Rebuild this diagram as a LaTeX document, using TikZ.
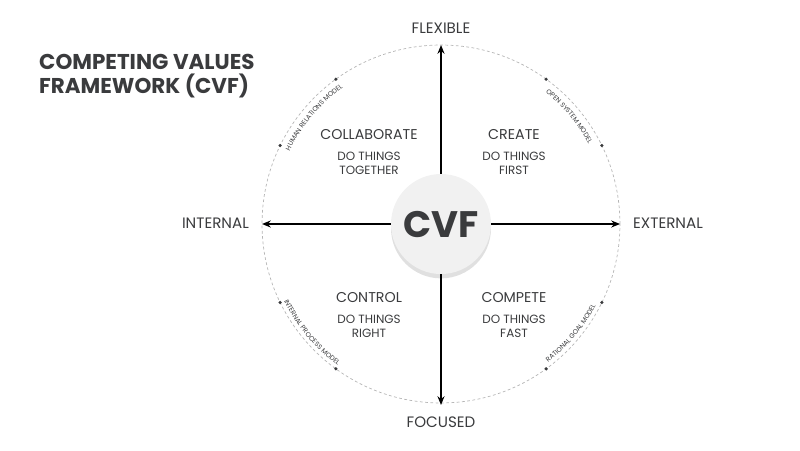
\documentclass[tikz,border=0pt]{standalone}
\usepackage{fontspec}
\setmainfont{Poppins}
\usepackage{tikz}
\usetikzlibrary{arrows.meta, positioning, shadows, decorations.text}

\definecolor{ink}{HTML}{3A3B3D}
\definecolor{ringgray}{HTML}{B5B5B5}
\definecolor{hubfill}{HTML}{F1F1F1}
\newcommand{\modelfont}{\fontsize{3.8}{4.5}\selectfont\color{ink}}

\begin{document}
\begin{tikzpicture}[x=0.02cm,y=0.02cm]
\tikzset{axis/.style = {line width=1pt,-{Stealth[length=5pt,width=4pt]}},
ring/.style = {ringgray,line width=0.4pt,dash pattern=on 1.6pt off 1.4pt},
hub/.style = {shape=circle,fill=hubfill,minimum size=2cm,inner sep=0pt,text=ink,font=\fontsize{21}{24}\selectfont\bfseries,
  drop shadow={shadow xshift=0pt,shadow yshift=-2.5pt,opacity=0.12,fill=black}},
axislabel/.style = {text=ink,font=\fontsize{8.6}{10}\selectfont},
quadhead/.style = {text=ink,font=\fontsize{8.1}{9}\selectfont},
quadtext/.style = {text=ink,font=\fontsize{6.8}{7.8}\selectfont,align=center},
model/.style = {decorate,decoration={text along path,text align=center}}}
\useasboundingbox (0,0) rectangle (800,450);

% outer ring
\draw[ring] (441,226) circle[radius=3.58cm];
\foreach \a in {26,54,126,154,206,234,306,334}
  \fill[ink] (441,226) ++(\a:3.58cm) circle[radius=1pt];

% model names
\path[model,decoration={text={|\modelfont|HUMAN RELATIONS MODEL}}] (441,226) ++(160:3.36cm) arc[start angle=160,end angle=120,radius=3.36cm];
\path[model,decoration={text={|\modelfont|OPEN SYSTEM MODEL}}] (441,226) ++(60:3.36cm) arc[start angle=60,end angle=20,radius=3.36cm];
\path[model,decoration={text={|\modelfont|INTERNAL PROCESS MODEL}}] (441,226) ++(200:3.5cm) arc[start angle=200,end angle=240,radius=3.5cm];
\path[model,decoration={text={|\modelfont|RATIONAL GOAL MODEL}}] (441,226) ++(300:3.5cm) arc[start angle=300,end angle=340,radius=3.5cm];

% axes
\node[hub] (cvf) at (441,226) {CVF};
\coordinate (top) at (441,405);
\coordinate (bottom) at (441,45);
\coordinate (left) at (262,226);
\coordinate (right) at (620,226);
\draw[axis] (cvf) -- (top);
\draw[axis] (cvf) -- (bottom);
\draw[axis] (cvf) -- (left);
\draw[axis] (cvf) -- (right);

% axis labels
\node[axislabel] (flexible) at (441,422) {FLEXIBLE};
\node[axislabel] (focused) at (441,28) {FOCUSED};
\node[axislabel,anchor=east] (internal) at (255,227) {INTERNAL};
\node[axislabel,anchor=west] (external) at (627,227) {EXTERNAL};

% title
\node[text=ink,font=\fontsize{12.2}{14}\selectfont\bfseries,align=left,anchor=west] (title) at (33,374) {COMPETING VALUES\\FRAMEWORK (CVF)};

% quadrants
\node[quadhead] (collaborate) at (369,315) {COLLABORATE};
\node[quadtext,below=0pt of collaborate] (collabtext) {DO THINGS\\TOGETHER};
\node[quadhead] (create) at (514,315) {CREATE};
\node[quadtext,below=0pt of create] (createtext) {DO THINGS\\FIRST};
\node[quadhead] (control) at (369,152) {CONTROL};
\node[quadtext,below=0pt of control] (controltext) {DO THINGS\\RIGHT};
\node[quadhead] (compete) at (514,152) {COMPETE};
\node[quadtext,below=0pt of compete] (competetext) {DO THINGS\\FAST};
\end{tikzpicture}
\end{document}
